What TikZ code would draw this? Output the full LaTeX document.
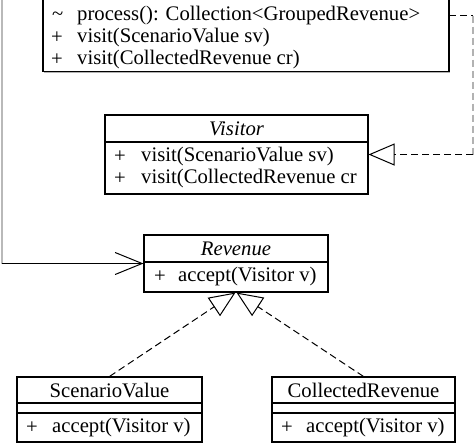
\documentclass[tikz,border=0pt]{standalone}
\usepackage{fontspec}
\setmainfont{Liberation Serif}
\usetikzlibrary{arrows.meta,shadows}
\begin{document}
\begin{tikzpicture}[x=1pt,y=-1pt,
  cls/.style={draw=black, line width=1.1pt, fill=white, rectangle, inner sep=0pt,
    drop shadow={shadow xshift=1.3pt, shadow yshift=-1.3pt, fill=black!30, opacity=1}},
  txt/.style={inner sep=0pt, font=\fontsize{20.7}{22}\selectfont},
  mem/.style={txt, anchor=west},
  nm/.style={txt, anchor=center},
  div/.style={line width=1.1pt},
  dsh/.style={line width=1pt, dash pattern=on 7pt off 4pt},
  real/.style={dsh, -{Triangle[open,length=26pt,width=22pt,line width=1pt]}},
  assoc/.style={line width=1pt, -{Straight Barb[length=27pt,width=22pt,line width=1pt]}},
  edge/.style={gray!55, line width=1.5pt}
]
\useasboundingbox (0,0) rectangle (474,447);
\clip (0,0) rectangle (474,447);

% top class (cut off)
\node[cls, minimum width=406pt, minimum height=101.5pt] (coll) at (246,20.75) {};
\node[mem] (c1s) at (52,16) {\textasciitilde};
\node[mem] (c1t) at (77,16) {process(): Collection<GroupedRevenue>};
\node[mem] (c2s) at (51,38) {+};
\node[mem] (c2t) at (77,38) {visit(ScenarioValue sv)};
\node[mem] (c3s) at (51,60) {+};
\node[mem] (c3t) at (77,60) {visit(CollectedRevenue cr)};

% Visitor
\node[cls, minimum width=263pt, minimum height=79pt] (vis) at (236.5,154.5) {};
\draw[div] (105,142) -- (368,142);
\node[nm, font=\fontsize{20.7}{22}\selectfont\itshape] (visn) at (236.5,129) {Visitor};
\node[mem] (v1s) at (114,157) {+};
\node[mem] (v1t) at (141,157) {visit(ScenarioValue sv)};
\node[mem] (v2s) at (114,179) {+};
\node[mem] (v2t) at (141,179) {visit(CollectedRevenue cr};

% Revenue
\node[cls, minimum width=184pt, minimum height=57pt] (rev) at (236,263.5) {};
\draw[div] (144,262) -- (328,262);
\node[nm, font=\fontsize{20.7}{22}\selectfont\itshape] (revn) at (236,249) {Revenue};
\node[mem] (r1s) at (154,277) {+};
\node[mem] (r1t) at (178,277) {accept(Visitor v)};

% ScenarioValue
\node[cls, minimum width=185pt, minimum height=65pt] (sv) at (109.5,409.5) {};
\draw[div] (17,403) -- (202,403);
\draw[div] (17,413) -- (202,413);
\node[nm] (svn) at (109.5,390) {ScenarioValue};
\node[mem] (s1s) at (26,428) {+};
\node[mem] (s1t) at (52,428) {accept(Visitor v)};

% CollectedRevenue
\node[cls, minimum width=183pt, minimum height=65pt] (cr) at (363.5,409.5) {};
\draw[div] (272,403) -- (455,403);
\draw[div] (272,413) -- (455,413);
\node[nm] (crn) at (363.5,390) {CollectedRevenue};
\node[mem] (k1s) at (281,428) {+};
\node[mem] (k1t) at (306,428) {accept(Visitor v)};

% collector realizes Visitor
\coordinate (d0) at (449,15.5);
\coordinate (d1) at (473,15.5);
\coordinate (d2) at (473,154.5);
\draw[dsh] (d0) -- (d1);
\draw[dsh, gray!60, line width=1.4pt] (d1) -- (d2);
\draw[real] (d2) -- (vis.east);

% association to Revenue
\coordinate (a0) at (2,-5);
\coordinate (a1) at (2,263.5);
\draw[edge] (a0) -- (a1);
\draw[assoc] (a1) -- (rev.west);

% realizations of Revenue
\draw[real] (sv.north) -- ([xshift=-0.5pt]rev.south);
\draw[real] (cr.north) -- ([xshift=0.5pt]rev.south);
\end{tikzpicture}
\end{document}
